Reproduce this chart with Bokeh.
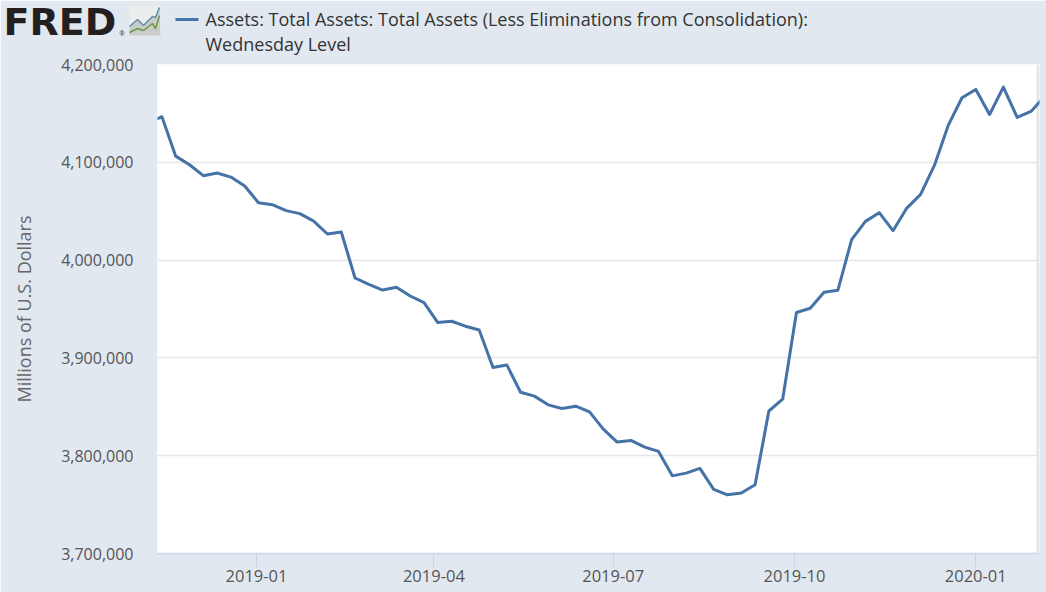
import pandas as pd
from bokeh.core.properties import value
from bokeh.embed import file_html
from bokeh.layouts import column, row
from bokeh.resources import INLINE
from bokeh.plotting import figure
from bokeh.models import (FixedTicker, NumeralTickFormatter, DatetimeTickFormatter,
                          BoxAnnotation, Range1d)

SERIES_NAME = ["Assets: Total Assets: Total Assets (Less Eliminations from Consolidation):", "Wednesday Level"]
Y_LABEL = "Millions of U.S. Dollars"
FIRST_WEEK = "2018-11-07"
VALUES = [4140750, 4146600, 4106300, 4097500, 4086300, 4089000, 4084900, 4075700, 4058700, 4056700,
          4050600, 4047500, 4039900, 4026700, 4028700, 3981700, 3975100, 3969400, 3972200, 3963300,
          3956600, 3936100, 3937500, 3932400, 3928600, 3890200, 3892800, 3864900, 3860900, 3852000,
          3848300, 3850600, 3844800, 3827200, 3813900, 3815600, 3808800, 3804400, 3779400, 3782200,
          3787000, 3765600, 3760000, 3761800, 3770300, 3845700, 3857800, 3946400, 3950800, 3967100,
          3969100, 4020900, 4039600, 4048500, 4030100, 4053200, 4067200, 4096800, 4137700, 4166000,
          4174500, 4148900, 4176800, 4145900, 4152000, 4167600]
Y_TICKS = [3700000, 3800000, 3900000, 4000000, 4100000, 4200000]
X_TICKS = ["2019-01-01", "2019-04-01", "2019-07-01", "2019-10-01", "2020-01-01"]

BG = "#e1e8f0"
INK = "#555555"
FONT = "Open Sans"
LINE = "#4572a7"


def ms(d):
    return pd.Timestamp(d).value / 1e6


dates = pd.date_range(FIRST_WEEK, periods=len(VALUES), freq="7D")

p = figure(width=1046, height=592, output_backend="svg", toolbar_location=None,
           x_axis_type="datetime", min_border_left=157, min_border_right=7,
           min_border_top=64, min_border_bottom=39,
           x_range=Range1d(ms("2018-11-11 18:00"), ms("2020-02-02 08:00")),
           y_range=Range1d(3700000, 4200000),
           background_fill_color="white", border_fill_color=BG, outline_line_color=None)

p.xgrid.visible = False
p.ygrid.grid_line_color = "#e6e6e6"
p.ygrid.grid_line_width = 1.5
p.ygrid.ticker = FixedTicker(ticks=Y_TICKS)

ax = p.yaxis[0]
ax.ticker = FixedTicker(ticks=Y_TICKS)
ax.formatter = NumeralTickFormatter(format="0,0")
ax.axis_line_color = None
ax.major_tick_line_color = None
ax.minor_tick_line_color = None
ax.major_label_text_font = FONT
ax.major_label_text_font_size = "16px"
ax.major_label_text_color = INK
ax.major_label_standoff = 18
ax.axis_label = Y_LABEL
ax.axis_label_text_font = FONT
ax.axis_label_text_font_size = "18px"
ax.axis_label_text_font_style = "normal"
ax.axis_label_text_color = "#666666"
ax.axis_label_standoff = 22

bx = p.xaxis[0]
bx.ticker = FixedTicker(ticks=[ms(d) for d in X_TICKS])
bx.formatter = DatetimeTickFormatter(months="%Y-%m", days="%Y-%m", years="%Y-%m")
bx.axis_line_color = "#ccd6eb"
bx.axis_line_width = 1.5
bx.major_tick_line_color = "#ccd6eb"
bx.major_tick_in = 0
bx.major_tick_out = 14
bx.minor_tick_line_color = None
bx.major_label_text_font = FONT
bx.major_label_text_font_size = "16.5px"
bx.major_label_text_color = INK
bx.major_label_standoff = 2

# the pale strip along the right edge of the plot
p.add_layout(BoxAnnotation(left=1036, right=1039, top=64, bottom=553,
                           left_units="canvas", right_units="canvas",
                           top_units="canvas", bottom_units="canvas",
                           fill_color="#e6e6e6", fill_alpha=1, line_color=None, level="underlay"))

p.line(dates, VALUES, line_color=LINE, line_width=3, line_join="round")

# transparent page-sized sheet above the chart: legend and logo, in page pixels
o = figure(width=1046, height=592, output_backend="svg", toolbar_location=None,
           min_border=0, x_range=Range1d(0, 1046), y_range=Range1d(592, 0),
           background_fill_alpha=0, border_fill_alpha=0, outline_line_color=None,
           x_axis_location=None, y_axis_location=None)
o.grid.visible = False

o.line([175, 198], [19, 19], line_color=LINE, line_width=3)
o.text([205], [18], text=[SERIES_NAME[0]], text_font=value(FONT), text_font_size="18px",
       text_color="#333333", text_baseline="middle")
o.text([205], [43], text=[SERIES_NAME[1]], text_font=value(FONT), text_font_size="18px",
       text_color="#333333", text_baseline="middle")

o.text([3], [21.5], text=["FRED"], text_font=value("DejaVu Sans"), text_font_style="bold",
       text_font_size="38px", text_color="#231f20", text_baseline="middle")
o.text([119], [33], text=["®"], text_font=value("Liberation Sans"), text_font_size="7px",
       text_color="#231f20", text_baseline="middle")

o.quad(left=[129], right=[160], top=[5], bottom=[35], fill_color="#eceeee", line_color=None)
icon_x = [129, 137, 143, 152, 155, 159]
icon_blue = [26, 19, 25, 16, 17, 7]
icon_green = [32, 28, 30, 23, 28, 15]
o.patch(icon_x + [160, 129], icon_blue + [35, 35], fill_color="#cacccc", line_color=None)
o.line(icon_x, icon_blue, line_color="#5e8fa8", line_width=1.5)
o.line(icon_x, icon_green, line_color="#6a9a3f", line_width=1.5)

sheet = row(o, width=1046, height=592, styles={"margin-top": "-592px", "pointer-events": "none"})
page = column(p, sheet, width=1046, height=592, spacing=0,
              styles={"position": "absolute", "left": "0px", "top": "0px"})
open("out.html", "w").write(file_html(page, INLINE))
